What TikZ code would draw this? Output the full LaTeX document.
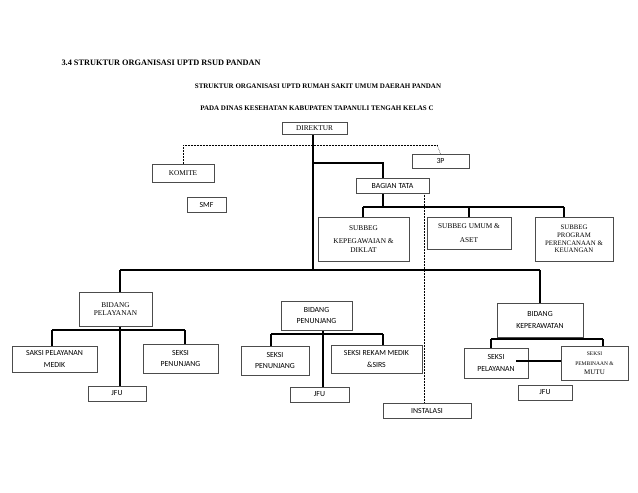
\documentclass[tikz,border=0pt]{standalone}
\usepackage{fontspec}
\setmainfont{Liberation Serif}
\newfontfamily\calfnt{Carlito}
\begin{document}
\begin{tikzpicture}[x=1pt,y=-1pt,
  bx/.style={draw=black!70,line width=0.5pt,fill=white,inner sep=0pt,align=center,font=\fontsize{7.3}{8.5}\selectfont},
  sf/.style={font=\calfnt\fontsize{7.8}{9.5}\selectfont},
  ln/.style={line width=1.3pt},
  dt/.style={densely dotted,line width=0.5pt}]
\useasboundingbox (0,0) rectangle (638,493);
\node[anchor=west,font=\bfseries\fontsize{8.3}{10}\selectfont] (t1) at (58,63) {3.4 STRUKTUR ORGANISASI UPTD RSUD PANDAN};
\node[font=\bfseries\fontsize{7}{8}\selectfont] (t2) at (318,86) {STRUKTUR ORGANISASI UPTD RUMAH SAKIT UMUM DAERAH PANDAN};
\node[font=\bfseries\fontsize{7}{8}\selectfont] (t3) at (317,108) {PADA DINAS KESEHATAN KABUPATEN TAPANULI TENGAH KELAS C};
\newcommand\bx[7][]{\node[bx,#1,minimum width=#4-#2,minimum height=#5-#3] (#6) at ({(#2+#4)/2},{(#3+#5)/2}) {#7};}
\coordinate (d1) at (183,145); \coordinate (d2) at (437,145);
\draw[dt] (d1) -- (d2);
\draw[dt] (424,193) -- (424,403);
\draw[ln] (313,134) -- (313,270);
\draw[ln] (313,163) -| (383,178);
\draw[ln] (383,193) -- (383,207);
\draw[ln] (363,207) -- (564,207);
\draw[ln] (363,207) -- (363,217);
\draw[ln] (469,207) -- (469,217);
\draw[ln] (564,207) -- (564,217);
\draw[ln] (120,270) -- (540,270);
\draw[ln] (120,270) -- (120,292);
\draw[ln] (540,270) -- (540,303);
\draw[ln] (52,330) -- (185,330);
\draw[ln] (52,330) -- (52,346);
\draw[ln] (185,330) -- (185,344);
\draw[ln] (120,326) -- (120,386);
\draw[ln] (271,334) -- (383,334);
\draw[ln] (271,334) -- (271,346);
\draw[ln] (383,334) -- (383,345);
\draw[ln] (323,330) -- (323,387);
\draw[ln] (491,339) -- (603,339);
\draw[ln] (491,339) -- (491,348);
\draw[ln] (603,339) -- (603,346);
\bx{282}{122}{347}{134}{dir}{DIREKTUR}
\bx{152}{164}{214}{182}{kom}{KOMITE}
\bx[sf]{412}{154}{469}{168}{p3}{3P}
\bx[sf]{356}{178}{429}{193}{bag}{BAGIAN TATA}
\bx[sf]{187}{197}{226}{212}{smf}{SMF}
\bx{318}{217}{409}{261}{sk}{SUBBEG\\[5pt]KEPEGAWAIAN \&\\DIKLAT}
\bx{427}{217}{511}{249}{su}{SUBBEG UMUM \&\\[5pt]ASET}
\bx[font=\fontsize{6.8}{7.6}\selectfont]{535}{217}{613}{261}{sp}{SUBBEG\\PROGRAM\\PERENCANAAN \&\\KEUANGAN}
\bx{79}{292}{152}{326}{bp}{BIDANG\\PELAYANAN}
\bx[sf]{281}{301}{352}{330}{bpn}{BIDANG\\[2pt]PENUNJANG}
\bx[sf]{497}{303}{583}{337}{bk}{BIDANG\\[2pt]KEPERAWATAN}
\bx[sf]{12}{346}{97}{372}{spm}{SAKSI PELAYANAN\\[2pt]MEDIK}
\bx[sf]{143}{344}{218}{373}{spj}{SEKSI\\[2pt]PENUNJANG}
\bx[sf]{88}{386}{146}{401}{j1}{JFU}
\bx[sf]{241}{346}{309}{375}{spj2}{SEKSI\\[2pt]PENUNJANG}
\bx[sf]{331}{345}{422}{373}{srm}{SEKSI REKAM MEDIK\\[2pt]\&SIRS}
\bx[sf]{290}{387}{349}{402}{j2}{JFU}
\bx[sf]{383}{403}{471}{418}{ins}{INSTALASI}
\bx[sf]{464}{348}{528}{378}{spl}{SEKSI\\[2pt]PELAYANAN}
\bx[font=\fontsize{5.5}{8}\selectfont]{561}{346}{628}{380}{spb}{SEKSI\\[2pt]PEMBINAAN \&\\[1pt]{\fontsize{7}{8}\selectfont MUTU}}
\bx[sf]{518}{385}{572}{400}{j3}{JFU}
\draw[dt] (kom.north) -- (d1);
\draw[dt] (d2) -- (p3.north);
\draw[ln] (516,361) -- (spb.west |- 0,361);
\end{tikzpicture}
\end{document}
